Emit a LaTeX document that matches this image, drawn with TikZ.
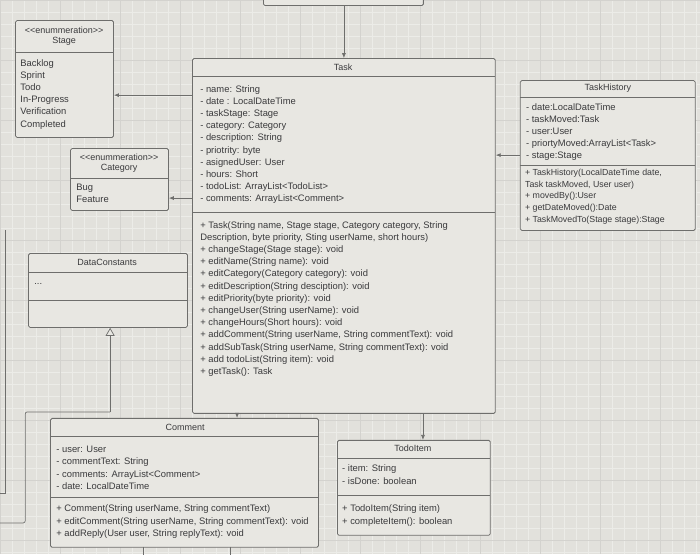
\documentclass[tikz,border=0pt]{standalone}
\usepackage{fontspec}
\setmainfont{Liberation Sans}[Ligatures=NoCommon]
\usetikzlibrary{arrows.meta}
\definecolor{bg}{HTML}{E2E1DC}
\definecolor{boxbg}{HTML}{E8E7E2}
\definecolor{ln}{HTML}{6E6E6C}
\definecolor{tx}{HTML}{3A3A3C}
\newcommand{\stL}{<{}<}
\newcommand{\stR}{>{}>}
\begin{document}
\begin{tikzpicture}[x=1pt,y=-1pt,
  box/.style={draw=ln,fill=boxbg,line width=0.8pt,rounded corners=1.5pt,anchor=north west,inner sep=0pt},
  sep/.style={draw=ln,line width=0.7pt},
  txt/.style={anchor=north west,align=left,text=tx,font=\fontsize{9.4}{12.2}\selectfont,inner sep=0pt},
  ttl/.style={anchor=center,text=tx,font=\fontsize{9}{10.5}\selectfont,align=center,inner sep=0pt},
  con/.style={draw=ln,line width=0.7pt},
  arr/.style={con,-{Latex[length=5pt,width=4pt]}},
  inh/.style={con,-{Triangle[open,length=8pt,width=9pt,fill=boxbg]}}]
\fill[bg] (0,0) rectangle (700,554);
\foreach \i in {0,12,...,696} \draw[white!35!bg,line width=0.3pt] (\i,0) -- (\i,554);
\foreach \i in {0,12,...,552} \draw[white!35!bg,line width=0.3pt] (0,\i) -- (700,\i);
\foreach \i in {0,60,...,696} \draw[gray!15!bg,line width=0.4pt] (\i,0) -- (\i,554);
\foreach \i in {0,60,...,552} \draw[gray!15!bg,line width=0.4pt] (0,\i) -- (700,\i);
\useasboundingbox (0,0) rectangle (700,554);
% top box
\node[box,minimum width=160,minimum height=8] (top) at (263,-3) {};
% Task
\node[box,minimum width=303,minimum height=355] (task) at (192,58) {};
\draw[sep] (192,76) -- (495,76); \draw[sep] (192,212) -- (495,212);
\node[ttl] (taskt) at (343,67) {Task};
\node[txt] (taska) at (200,85) {- name: String\\- date : LocalDateTime\\- taskStage: Stage\\- category: Category\\- description: String\\- priotrity: byte\\- asignedUser: User\\- hours: Short\\- todoList: ArrayList<TodoList>\\- comments: ArrayList<Comment>};
\node[txt] (taskm) at (200,221) {+ Task(String name, Stage stage, Category category, String\\Description, byte priority, Sting userName, short hours)\\+ changeStage(Stage stage): void\\+ editName(String name): void\\+ editCategory(Category category): void\\+ editDescription(String desciption): void\\+ editPriority(byte priority): void\\+ changeUser(String userName): void\\+ changeHours(Short hours): void\\+ addComment(String userName, String commentText): void\\+ addSubTask(String userName, String commentText): void\\+ add todoList(String item): void\\+ getTask(): Task};
% Stage
\node[box,minimum width=98,minimum height=117] (stage) at (15,20) {};
\draw[sep] (15,52) -- (113,52);
\node[ttl] (staget) at (64,36) {\stL enummeration\stR\\Stage};
\node[txt] (stagea) at (20,59) {Backlog\\Sprint\\Todo\\In-Progress\\Verification\\Completed};
% Category
\node[box,minimum width=98,minimum height=62] (cat) at (70,148) {};
\draw[sep] (70,178) -- (168,178);
\node[ttl] (catt) at (119,163) {\stL enummeration\stR\\Category};
\node[txt] (cata) at (76,184) {Bug\\Feature};
% DataConstants
\node[box,minimum width=159,minimum height=74] (dc) at (28,253) {};
\draw[sep] (28,272) -- (187,272); \draw[sep] (28,300) -- (187,300);
\node[ttl] (dct) at (107,262) {DataConstants};
\node[txt] (dca) at (34,283) {...};
% TaskHistory
\node[box,minimum width=175,minimum height=150] (th) at (520,80) {};
\draw[sep] (520,97) -- (695,97); \draw[sep] (520,165) -- (695,165);
\node[ttl] (tht) at (608,88) {TaskHistory};
\node[txt] (tha) at (526,103) {- date:LocalDateTime\\- taskMoved:Task\\- user:User\\- priortyMoved:ArrayList<Task>\\- stage:Stage};
\node[txt,font=\fontsize{8.8}{11.6}\selectfont] (thm) at (525,169) {+ TaskHistory(LocalDateTime date,\\Task taskMoved, User user)\\+ movedBy():User\\+ getDateMoved():Date\\+ TaskMovedTo(Stage stage):Stage};
% Comment
\node[box,minimum width=268,minimum height=129] (com) at (50,418) {};
\draw[sep] (50,436) -- (318,436); \draw[sep] (50,497) -- (318,497);
\node[ttl] (comt) at (185,427) {Comment};
\node[txt] (coma) at (56,446) {- user: User\\- commentText: String\\- comments: ArrayList<Comment>\\- date: LocalDateTime};
\node[txt] (comm) at (56,505) {+ Comment(String userName, String commentText)\\+ editComment(String userName, String commentText): void\\+ addReply(User user, String replyText): void};
% TodoItem
\node[box,minimum width=153,minimum height=95] (todo) at (337,440) {};
\draw[sep] (337,458) -- (490,458); \draw[sep] (337,495) -- (490,495);
\node[ttl] (todot) at (413,448) {TodoItem};
\node[txt] (todoa) at (342,465) {- item: String\\- isDone: boolean};
\node[txt] (todom) at (342,505) {+ TodoItem(String item)\\+ completeItem(): boolean};
% connectors
\draw[arr] (top.south -| task.north) -- (task.north);
\draw[arr] (task.west |- 0,95) -- (stage.east |- 0,95);
\draw[arr] (task.west |- 0,198) -- (cat.east |- 0,198);
\draw[arr] (th.west |- 0,155) -- (task.east |- 0,155);
\draw[arr] (task.south -| 237,0) -- (com.north -| 237,0);
\draw[arr] (task.south -| 423,0) -- (todo.north -| 423,0);
\draw[inh] (110,412) -- (dc.south -| 110,0);
\draw[con,rounded corners=2pt] (110,412) -- (25,412) -- (25,523) -- (-2,523);
\draw[con] (5,230) -- (5,493) -- (-2,493);
\draw[con] (143,547) -- (143,556);
\draw[con] (230,547) -- (230,556);
\end{tikzpicture}
\end{document}
